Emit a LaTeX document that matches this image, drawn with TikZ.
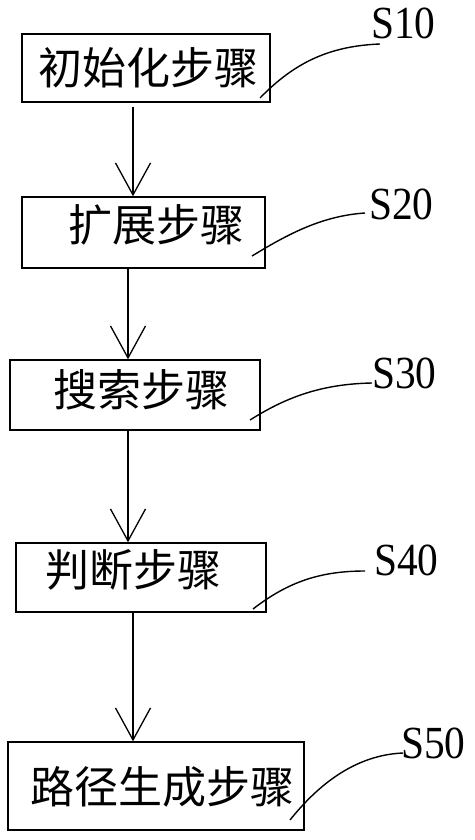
\documentclass[tikz,border=0pt]{standalone}
\usepackage{fontspec}
\newfontfamily\cjk{Noto Sans CJK SC}
\newfontfamily\labfont{Liberation Serif}
\usetikzlibrary{arrows.meta,calc}
\newcommand{\steplab}[1]{\scalebox{0.9}[1]{#1}}
\begin{document}
\begin{tikzpicture}[x=1pt,y=-1pt,
  box/.style={draw, line width=1.4pt, inner sep=0pt},
  txt/.style={inner sep=0pt, font=\cjk\fontsize{44}{44}\selectfont},
  lab/.style={inner sep=0pt, anchor=base west, font=\labfont\fontsize{46}{46}\selectfont},
  arr/.style={line width=1.3pt, -{Straight Barb[length=32pt,width=35pt,line width=1.3pt]}},
  lead/.style={line width=1.4pt}]
\useasboundingbox (0,0) rectangle (474,840);
% boxes
\node[box, minimum width=248pt, minimum height=68pt] (b1) at (146,68) {};
\node[box, minimum width=243pt, minimum height=71pt] (b2) at (143.5,232.5) {};
\node[box, minimum width=250pt, minimum height=70pt] (b3) at (135,395) {};
\node[box, minimum width=250pt, minimum height=69pt] (b4) at (141,577.5) {};
\node[box, minimum width=296pt, minimum height=88pt] (b5) at (156,786) {};
% texts
\node[txt] (t1) at (148.5,68) {初始化步骤};
\node[txt] (t2) at (156.5,225) {扩展步骤};
\node[txt] (t3) at (141.5,390) {搜索步骤};
\node[txt] (t4) at (133.5,570) {判断步骤};
\node[txt] (t5) at (162.5,787) {路径生成步骤};
% labels
\node[lab] (s1) at (371,39) {\steplab{S10}};
\node[lab] (s2) at (369,219) {\steplab{S20}};
\node[lab] (s3) at (372,388) {\steplab{S30}};
\node[lab] (s4) at (374,575) {\steplab{S40}};
\node[lab] (s5) at (401,758) {\steplab{S50}};
% arrows
\coordinate (xa) at (133,0);
\coordinate (xb) at (128,0);
\draw[arr] ($(b1.south -| xa)+(0,4)$) -- (b2.north -| xa);
\draw[arr] (b2.south -| xb) -- (b3.north -| xb);
\draw[arr] (b3.south -| xb) -- (b4.north -| xb);
\draw[arr] (b4.south -| xa) -- (b5.north -| xa);
% leaders
\coordinate (p1) at (260,98);
\coordinate (p2) at (252,256);
\coordinate (p3) at (250,420);
\coordinate (p4) at (253,609);
\coordinate (p5) at (290,820);
\draw[lead] (p1) .. controls (295,62) and (330,46) .. ($(s1.base west)+(9,5)$);
\draw[lead] (p2) .. controls (285,236) and (320,216) .. ($(s2.base west)+(-4,-6)$);
\draw[lead] (p3) .. controls (285,398) and (320,384) .. ($(s3.base west)+(0,-5)$);
\draw[lead] (p4) .. controls (288,582) and (320,571) .. ($(s4.base west)+(-9,-4)$);
\draw[lead] (p5) .. controls (318,785) and (355,755) .. ($(s5.base west)+(2,-5)$);
\end{tikzpicture}
\end{document}
